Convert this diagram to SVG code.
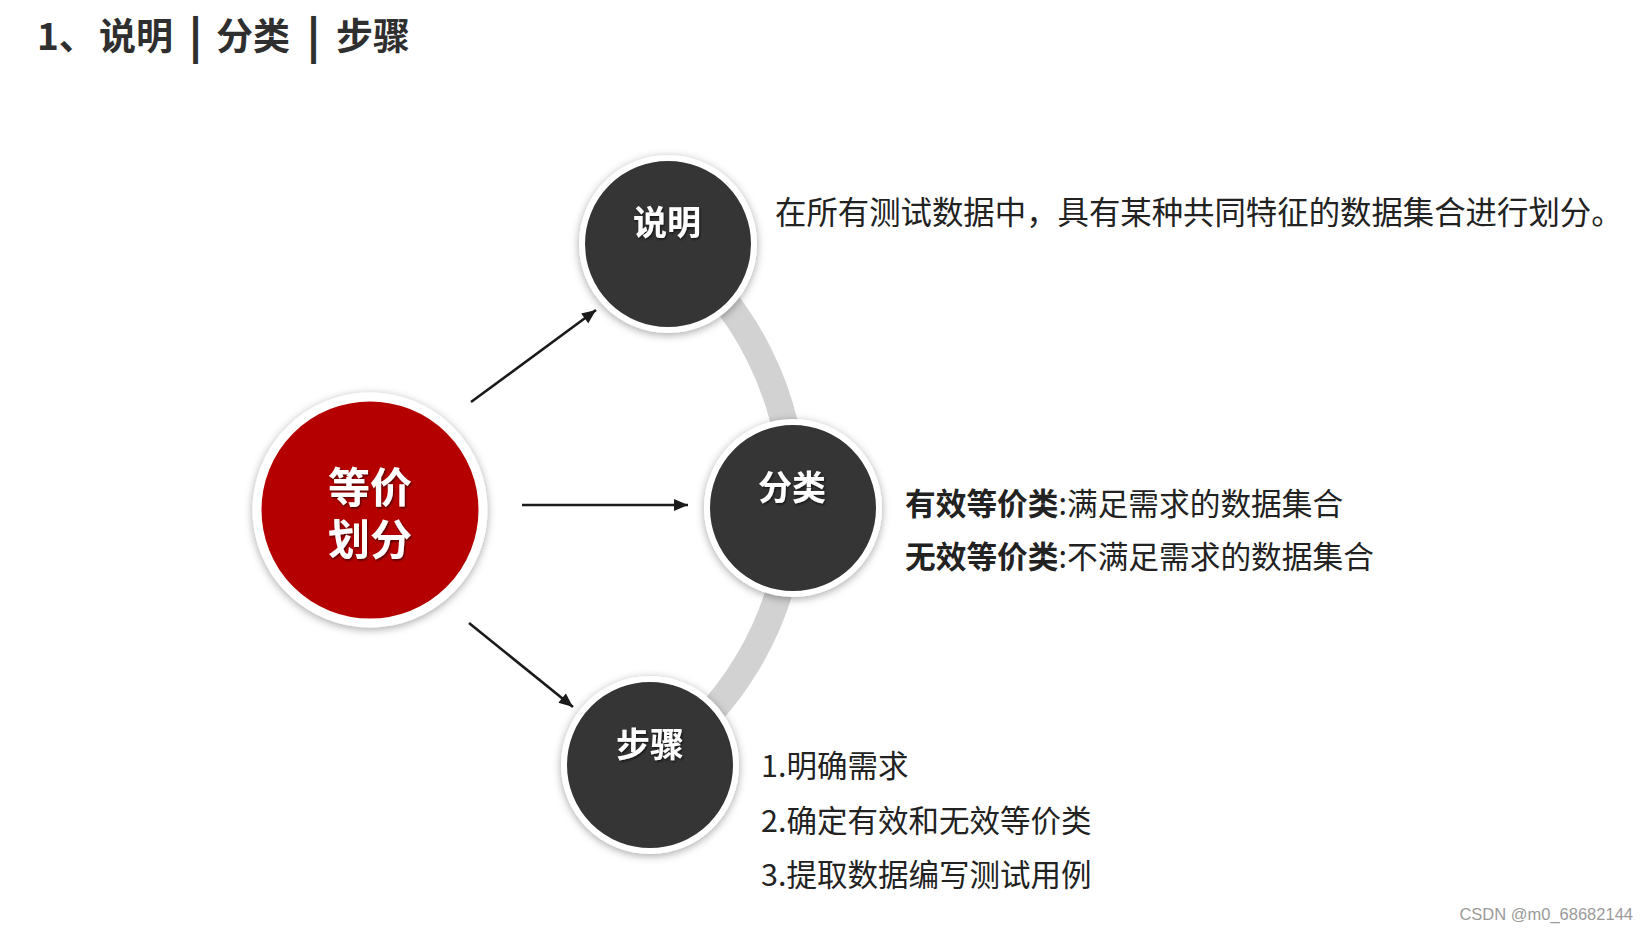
<svg xmlns="http://www.w3.org/2000/svg" width="1649" height="935" viewBox="0 0 1649 935">
  <defs>
    <filter id="shadow" x="-20%" y="-20%" width="140%" height="140%">
      <feDropShadow dx="0" dy="2" stdDeviation="4" flood-color="#000" flood-opacity="0.35"/>
    </filter>
    <filter id="tshadow" x="-10%" y="-10%" width="120%" height="130%">
      <feDropShadow dx="1" dy="1.5" stdDeviation="0.8" flood-color="#000" flood-opacity="0.6"/>
    </filter>
    <marker id="arrow" markerUnits="userSpaceOnUse" markerWidth="16" markerHeight="14" refX="15" refY="7" orient="auto">
      <path d="M1,1 L15,7 L1,13 Z" fill="#1a1a1a"/>
    </marker>
  </defs>
  <style>
    .cjk { font-family: "Noto Sans CJK SC", "Noto Sans", sans-serif; }
    .title { font-size: 37px; font-weight: bold; fill: #2f2f2f; }
    .bar { font-size: 42px; font-weight: 900; }
    .label { font-size: 34px; font-weight: bold; fill: #ffffff; text-anchor: middle; }
    .big { font-size: 42px; font-weight: bold; fill: #ffffff; text-anchor: middle; }
    .desc { font-size: 31.4px; fill: #222222; }
    .body { font-size: 30.7px; fill: #222222; }
    .steps { font-size: 30.5px; fill: #222222; }
    .bold { font-weight: bold; }
    .dark { fill: #343434; stroke: #ffffff; stroke-width: 6; }
    .red { fill: #b50505; stroke: #ffffff; stroke-width: 9; }
    .conn { stroke: #1a1a1a; stroke-width: 2.6; fill: none; marker-end: url(#arrow); }
    .band { stroke: #d2d2d2; stroke-width: 27; fill: none; }
    .wm { font-family: "Liberation Sans", Arial, sans-serif; font-size: 16.5px; fill: #9a9a9a; text-anchor: end; }
  </style>

  <rect x="0" y="0" width="1649" height="935" fill="#ffffff"/>

  <g id="title">
    <text class="cjk title" y="50"><tspan x="37">1、</tspan><tspan x="99">说明</tspan><tspan class="bar" x="189" y="52">|</tspan><tspan x="216" y="50">分类</tspan><tspan class="bar" x="307" y="52">|</tspan><tspan x="336" y="50">步骤</tspan></text>
  </g>

  <g id="band">
    <path class="band" d="M668,244 A320.6,320.6 0 0 1 650,765"/>
  </g>

  <g id="connectors">
    <line class="conn" x1="471" y1="402" x2="596" y2="310"/>
    <line class="conn" x1="522" y1="505" x2="688" y2="505"/>
    <line class="conn" x1="469" y1="623" x2="573" y2="707"/>
  </g>

  <g id="node-center">
    <circle class="red" cx="370" cy="510" r="113" filter="url(#shadow)"/>
    <text class="cjk big" filter="url(#tshadow)"><tspan x="370" y="503">等价</tspan><tspan x="370" y="555">划分</tspan></text>
  </g>

  <g id="node-shuoming">
    <circle class="dark" cx="668" cy="244" r="86" filter="url(#shadow)"/>
    <text class="cjk label" x="667" y="235" filter="url(#tshadow)">说明</text>
  </g>

  <g id="node-fenlei">
    <circle class="dark" cx="793" cy="508" r="86" filter="url(#shadow)"/>
    <text class="cjk label" x="792" y="500" filter="url(#tshadow)">分类</text>
  </g>

  <g id="node-buzhou">
    <circle class="dark" cx="650" cy="765" r="86" filter="url(#shadow)"/>
    <text class="cjk label" x="650" y="757" filter="url(#tshadow)">步骤</text>
  </g>

  <g id="text-shuoming">
    <text class="cjk desc" x="775" y="224">在所有测试数据中，具有某种共同特征的数据集合进行划分。</text>
  </g>

  <g id="text-fenlei">
    <text class="cjk body" x="905" y="515"><tspan class="bold">有效等价类</tspan>:满足需求的数据集合</text>
    <text class="cjk body" x="905" y="568"><tspan class="bold">无效等价类</tspan>:不满足需求的数据集合</text>
  </g>

  <g id="text-buzhou">
    <text class="cjk steps" x="761" y="777">1.明确需求</text>
    <text class="cjk steps" x="761" y="832">2.确定有效和无效等价类</text>
    <text class="cjk steps" x="761" y="886">3.提取数据编写测试用例</text>
  </g>

  <text class="wm" x="1633" y="920">CSDN @m0_68682144</text>
</svg>
